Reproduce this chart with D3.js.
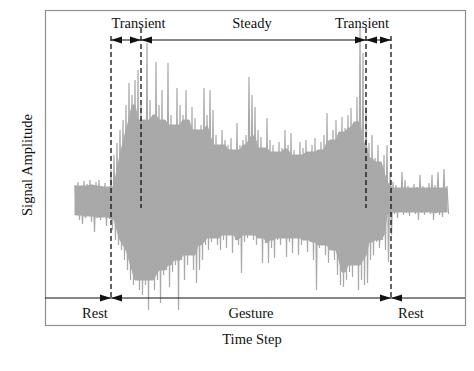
<!DOCTYPE html>
<html>
<head>
<meta charset="utf-8">
<script src="https://cdn.jsdelivr.net/npm/d3@7/dist/d3.min.js"></script>
<style>
body { margin: 0; background: #fff; }
text { font-family: "Liberation Serif", "Times New Roman", serif; font-size: 14.5px; fill: #111; }
</style>
</head>
<body>
<svg id="chart" width="474" height="371"></svg>
<script>
// Signal: one positive peak and one negative trough per time step
// (rest, transient, steady, transient, rest)
var peaks = [
    15, 18, 14, 19, 16, 20, 15, 18, 20, 14, 17, 13,
    30, 45, 57, 70, 80, 95, 117, 105, 120, 130,
    95, 80, 157, 100, 85, 138, 95, 110, 80, 137, 85, 75, 112, 95, 85, 110, 80, 93, 82, 70,
    75, 112, 85, 110, 90, 65, 55, 70, 60, 55, 62, 50, 77, 55, 60, 65, 123, 105, 93, 70,
    63, 52, 82, 60, 55, 48, 58, 52, 70, 55, 67, 50, 45, 58, 52, 60, 48, 55, 62, 50,
    58, 65, 87, 60, 70, 80, 68, 83, 72, 85, 92, 78, 103, 173, 147,
    93, 57, 65, 42, 55, 38, 45, 55, 28,
    18, 15, 12, 28, 20, 14, 12, 16, 13, 25, 14, 12, 17, 25, 15, 28, 12, 31, 14
];
var troughs = [
    -15, -20, -24, -18, -16, -22, -32, -18, -20, -17, -26, -19,
    -30, -40, -45, -50, -60, -70, -80, -85, -80, -90,
    -95, -85, -110, -80, -90, -80, -103, -75, -70, -87, -72, -65, -110, -60, -80, -65, -55, -70, -83, -70,
    -60, -45, -50, -42, -38, -45, -50, -40, -48, -35, -53, -40, -45, -73, -42, -38, -35, -40, -45, -38,
    -63, -43, -63, -48, -58, -40, -45, -38, -57, -42, -53, -38, -55, -45, -40, -52, -42, -60, -90, -48,
    -45, -55, -63, -50, -60, -75, -85, -87, -80, -72, -77, -65, -90, -80, -85,
    -83, -60, -55, -42, -48, -40, -50, -62, -35,
    -14, -18, -12, -15, -13, -16, -12, -14, -20, -13, -15, -12, -14, -20, -13, -15, -17, -12, -14
];

// phase boundaries in time steps: gesture start, steady start, steady end, gesture end
var boundaries = [12, 22, 97, 105.33];
var topLabels = ["Transient", "Steady", "Transient"];
var bottomLabels = ["Rest", "Gesture", "Rest"];

var svg = d3.select("#chart");

var x = d3.scaleLinear().domain([-10, 130]).range([45, 465]);
var y = d3.scaleLinear().domain([-98, 190]).range([298, 10]);

var topY = 40,        // arrow row above the signal
    bottomY = y(-98); // arrow row under the signal
var grey = "#a9a9a9";

// frame
svg.append("rect")
    .attr("x", 45.5).attr("y", 10.5)
    .attr("width", 420).attr("height", 315)
    .attr("fill", "none")
    .attr("stroke", "#8f8f8f")
    .attr("stroke-width", 1.2);

// dense body of the signal: smallest peak / trough among the two steps either side
var steps = d3.range(peaks.length);
function near(arr, i) {
    return arr.slice(Math.max(0, i - 2), Math.min(arr.length, i + 3));
}
var body = d3.area()
    .x(function(i) { return x(i); })
    .y0(function(i) { return y(d3.max(near(troughs, i))); })
    .y1(function(i) { return y(d3.min(near(peaks, i))); });

svg.append("path")
    .datum(steps)
    .attr("d", body)
    .attr("fill", grey)
    .attr("stroke", grey)
    .attr("stroke-width", 1);

// the raw trace: zigzag peak -> trough -> next peak
var points = [];
for (var i = 0; i < peaks.length; i++) {
    points.push({t: i, v: peaks[i]});
    points.push({t: i + 0.5, v: troughs[i]});
}
var trace = d3.line()
    .x(function(d) { return x(d.t); })
    .y(function(d) { return y(d.v); });

svg.append("path")
    .datum(points)
    .attr("d", trace)
    .attr("fill", "none")
    .attr("stroke", grey)
    .attr("stroke-width", 1.2)
    .attr("stroke-linejoin", "bevel");

// dashed markers: outer ones reach the bottom row, inner ones stop mid-signal
var dashTop = [36, 28, 28, 36];
var dashBottom = [bottomY, 208, 208, bottomY];
svg.selectAll(".marker")
    .data(boundaries)
    .enter().append("line")
    .attr("class", "marker")
    .attr("x1", function(d) { return x(d); })
    .attr("x2", function(d) { return x(d); })
    .attr("y1", function(d, i) { return dashTop[i]; })
    .attr("y2", function(d, i) { return dashBottom[i]; })
    .attr("stroke", "#111")
    .attr("stroke-width", 1.3)
    .attr("stroke-dasharray", "5,3");

// horizontal arrow rows
svg.append("line")
    .attr("x1", x(boundaries[0])).attr("x2", x(boundaries[3]))
    .attr("y1", topY).attr("y2", topY)
    .attr("stroke", "#111").attr("stroke-width", 1.2);
svg.append("line")
    .attr("x1", 45).attr("x2", 465)
    .attr("y1", bottomY).attr("y2", bottomY)
    .attr("stroke", "#111").attr("stroke-width", 1.2);

// arrow head with its tip at (tx, ty); dir -1 points left, 1 points right
function arrow(tx, ty, dir) {
    var len = 11, half = 3.5;
    svg.append("path")
        .attr("d", "M" + tx + "," + ty +
                   "L" + (tx - dir * len) + "," + (ty - half) +
                   "L" + (tx - dir * len) + "," + (ty + half) + "Z")
        .attr("fill", "#111");
}

var topSpans = [[boundaries[0], boundaries[1]], [boundaries[1], boundaries[2]], [boundaries[2], boundaries[3]]];
topSpans.forEach(function(s) {
    arrow(x(s[0]), topY, -1);
    arrow(x(s[1]), topY, 1);
});
// bottom: rest | gesture | rest, arrows only at the gesture edges
[boundaries[0], boundaries[3]].forEach(function(b) {
    arrow(x(b), bottomY, 1);
    arrow(x(b), bottomY, -1);
});

// labels
var topCenters = [138.5, 252, 362];
svg.selectAll(".toplabel")
    .data(topLabels)
    .enter().append("text")
    .attr("class", "toplabel")
    .attr("x", function(d, i) { return topCenters[i]; })
    .attr("y", 28)
    .attr("text-anchor", "middle")
    .text(function(d) { return d; });

var bottomCenters = [95, 251, 411];
svg.selectAll(".bottomlabel")
    .data(bottomLabels)
    .enter().append("text")
    .attr("class", "bottomlabel")
    .attr("x", function(d, i) { return bottomCenters[i]; })
    .attr("y", 318)
    .attr("text-anchor", "middle")
    .text(function(d) { return d; });

svg.append("text")
    .attr("x", 252).attr("y", 344)
    .attr("text-anchor", "middle")
    .text("Time Step");

svg.append("text")
    .attr("transform", "translate(32,165) rotate(-90)")
    .attr("text-anchor", "middle")
    .text("Signal Amplitude");
</script>
</body>
</html>
